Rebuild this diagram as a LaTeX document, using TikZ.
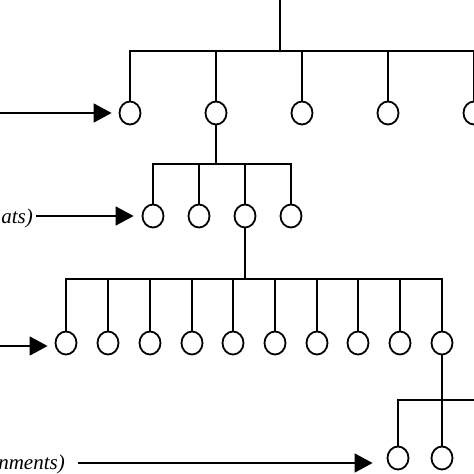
\documentclass[tikz,border=0pt]{standalone}
\usepackage{fontspec}
\setmainfont{Liberation Serif}
\usetikzlibrary{positioning,calc,shapes.geometric,arrows.meta}

\tikzset{
	leaf/.style={draw=black,line width=1.8pt,ellipse,minimum width=21pt,minimum height=23pt,inner sep=0pt},
	branch/.style={line width=1.8pt},
	pointer/.style={-{Triangle[length=18pt,width=19pt]},line width=1.6pt},
	lbl/.style={font=\fontsize{21}{24}\selectfont\itshape,inner sep=0pt}
}

\begin{document}
\begin{tikzpicture}[x=1pt,y=-1pt]
		\useasboundingbox (0,0) rectangle (474,474);
		\fill[white] (0,0) rectangle (474,474);
		
		% level one
		\coordinate (root) at (280,-5);
		\foreach \i/\x in {1/130,2/216,3/302,4/388,5/474}
			\node[leaf] (a\i) at (\x,113) {};
		\coordinate (abar) at (480,51);
		\draw[branch] (root) -- (root |- abar);
		\draw[branch] (a1.north) |- (abar);
		\foreach \i in {2,...,5}
			\draw[branch] (a\i.north) -- (a\i |- abar);
		\coordinate (ain) at (-5,113);
		\draw[pointer] (ain) -- ([xshift=-7pt]a1.west);
		
		% level two
		\foreach \i/\x in {1/153,2/199,3/245,4/291}
			\node[leaf] (b\i) at (\x,216) {};
		\coordinate (bbar) at (216,164);
		\draw[branch] (a2.south) -- (bbar);
		\draw[branch] (b1.north) |- (b4 |- bbar) -- (b4.north);
		\foreach \i in {2,3}
			\draw[branch] (b\i.north) -- (b\i |- bbar);
		\node[lbl,anchor=base east] (lbb) at (33,223) {ats)};
		\draw[pointer] ([xshift=3pt]lbb.east |- b1) -- ([xshift=-8pt]b1.west);
		
		% level three
		\foreach \i/\x in {1/66,2/108,3/150,4/192,5/233,6/275,7/317,8/358,9/400,10/442}
			\node[leaf] (c\i) at (\x,343) {};
		\coordinate (cbar) at (245,279);
		\draw[branch] (b3.south) -- (cbar);
		\draw[branch] (c1.north) |- (c10 |- cbar) -- (c10.north);
		\foreach \i in {2,...,9}
			\draw[branch] (c\i.north) -- (c\i |- cbar);
		\coordinate (cin) at (-5,346);
		\draw[pointer] (cin) -- ([xshift=-7pt]c1.west |- cin);
		
		% level four
		\node[leaf] (d1) at (398,458) {};
		\node[leaf] (d2) at (442,458) {};
		\coordinate (dbar) at (480,400);
		\draw[branch] (c10.south) -- (d2.north);
		\draw[branch] (d1.north) |- (dbar);
		\node[lbl,anchor=base east] (ldd) at (65,469) {nments)};
		\coordinate (din) at (78,463);
		\draw[pointer] (din) -- ([xshift=-14pt]d1.west |- din);
	\end{tikzpicture}
\end{document}
